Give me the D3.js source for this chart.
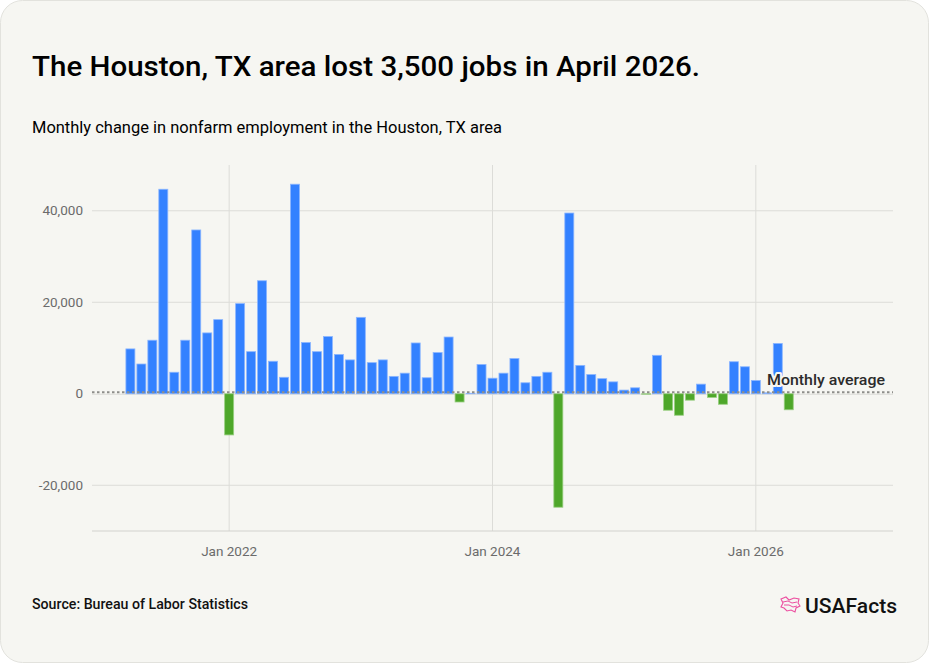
<!DOCTYPE html>
<html>
<head>
<meta charset="utf-8">
<script src="https://cdn.jsdelivr.net/npm/d3@7"></script>
<style>
  html, body { margin: 0; padding: 0; background: #ffffff; }
  svg { display: block; }
  text { font-family: Roboto, "Noto Sans", sans-serif; }
</style>
</head>
<body>
<svg id="chart" width="929" height="663"></svg>
<script>
// ---- data ----
const months = [
  "2021-04","2021-05","2021-06","2021-07","2021-08","2021-09","2021-10","2021-11","2021-12",
  "2022-01","2022-02","2022-03","2022-04","2022-05","2022-06","2022-07","2022-08","2022-09","2022-10","2022-11","2022-12",
  "2023-01","2023-02","2023-03","2023-04","2023-05","2023-06","2023-07","2023-08","2023-09","2023-10","2023-11","2023-12",
  "2024-01","2024-02","2024-03","2024-04","2024-05","2024-06","2024-07","2024-08","2024-09","2024-10","2024-11","2024-12",
  "2025-01","2025-02","2025-03","2025-04","2025-05","2025-06","2025-07","2025-08","2025-09","2025-10","2025-11","2025-12",
  "2026-01","2026-02","2026-03","2026-04"
];
const jobChange = [
  9800, 6500, 11700, 44700, 4700, 11700, 35800, 13300, 16200,
  -9000, 19700, 9200, 24700, 7100, 3600, 45800, 11200, 9200, 12500, 8600, 7400,
  16700, 6800, 7400, 3800, 4500, 11100, 3500, 9000, 12400, -1800, 100, 6400,
  3400, 4500, 7700, 2400, 3800, 4700, -24800, 39500, 6200, 4200, 3300, 2600,
  800, 1300, -100, 8400, -3600, -4700, -1400, 2100, -800, -2300, 7000, 5900,
  2900, 200, 11000, -3500
];
const monthlyAverage = 350;
const axisMonths = d3.timeMonths(new Date(2021, 0, 1), new Date(2027, 1, 1)).map(d3.timeFormat("%Y-%m"));
const xTickMonths = ["2022-01", "2024-01", "2026-01"];
const xTickLabels = ["Jan 2022", "Jan 2024", "Jan 2026"];
const yTicks = [-20000, 0, 20000, 40000];
const yDomain = [-30000, 50000];

const titleText = "The Houston, TX area lost 3,500 jobs in April 2026.";
const subtitleText = "Monthly change in nonfarm employment in the Houston, TX area";
const sourceText = "Source: Bureau of Labor Statistics";

// ---- layout ----
const W = 929, H = 663;
const bg = "#f6f6f2";
const svg = d3.select("#chart");

svg.append("rect")
  .attr("x", 0.5).attr("y", 0.5).attr("width", W - 1).attr("height", H - 1)
  .attr("rx", 22).attr("fill", bg).attr("stroke", "#e2e2dd");

const plot = { left: 92, right: 893, top: 165, bottom: 531 };

const x = d3.scaleBand().domain(axisMonths).range([plot.left, plot.right]).paddingInner(0.18).paddingOuter(0.09);
const y = d3.scaleLinear().domain(yDomain).range([plot.bottom, plot.top]);

// title
svg.append("text").attr("x", 32).attr("y", 76)
  .attr("font-size", 28).attr("font-weight", 500).attr("fill", "#000")
  .attr("textLength", 668).attr("lengthAdjust", "spacingAndGlyphs")
  .text(titleText);
svg.append("text").attr("x", 32).attr("y", 133)
  .attr("font-size", 16).attr("font-weight", 400).attr("fill", "#000")
  .attr("textLength", 470).attr("lengthAdjust", "spacingAndGlyphs")
  .text(subtitleText);

// horizontal grid
const g = svg.append("g");
g.selectAll("line.hgrid").data(yTicks.filter(t => t !== 0)).enter().append("line")
  .attr("x1", plot.left).attr("x2", plot.right)
  .attr("y1", d => y(d)).attr("y2", d => y(d))
  .attr("stroke", "#dcdcd8").attr("stroke-width", 1);

// vertical grid
g.selectAll("line.vgrid").data(xTickMonths).enter().append("line")
  .attr("x1", d => x(d) + x.bandwidth() / 2).attr("x2", d => x(d) + x.bandwidth() / 2)
  .attr("y1", plot.top).attr("y2", plot.bottom)
  .attr("stroke", "#dcdcd8").attr("stroke-width", 1);

// bottom axis line
g.append("line").attr("x1", plot.left).attr("x2", plot.right)
  .attr("y1", plot.bottom).attr("y2", plot.bottom)
  .attr("stroke", "#d2d2ce").attr("stroke-width", 1.2);

// zero line
g.append("line").attr("x1", plot.left).attr("x2", plot.right)
  .attr("y1", y(0) + 0.5).attr("y2", y(0) + 0.5)
  .attr("stroke", "#dcdcd8").attr("stroke-width", 1);

// y labels
svg.selectAll("text.ylab").data(yTicks).enter().append("text")
  .attr("x", 83).attr("y", d => y(d) + 4.5)
  .attr("text-anchor", "end").attr("font-size", 13.5).attr("fill", "#6b6b6b")
  .text(d => d3.format(",")(d).replace("−", "-"));

// x labels
svg.selectAll("text.xlab").data(xTickMonths).enter().append("text")
  .attr("x", d => x(d) + x.bandwidth() / 2).attr("y", 556)
  .attr("text-anchor", "middle").attr("font-size", 13.5).attr("fill", "#6b6b6b")
  .text((d, i) => xTickLabels[i]);

// bars
const data = months.map((m, i) => ({ m, v: jobChange[i] }));
svg.append("g").selectAll("rect").data(data).enter().append("rect")
  .attr("x", d => x(d.m))
  .attr("width", x.bandwidth())
  .attr("y", d => y(Math.max(0, d.v)))
  .attr("height", d => Math.abs(y(d.v) - y(0)))
  .attr("fill", d => d.v >= 0 ? "#3381ff" : "#4ea72a")
  .attr("stroke", d => d.v >= 0 ? "#8cb6ff" : "#98cf80")
  .attr("stroke-width", 0.8);

// monthly average dotted line
svg.append("line").attr("x1", plot.left).attr("x2", plot.right)
  .attr("y1", y(monthlyAverage)).attr("y2", y(monthlyAverage))
  .attr("stroke", "#8e8e8a").attr("stroke-width", 2).attr("stroke-dasharray", "2.5,2.5");

svg.append("text").attr("x", 767).attr("y", 384.5)
  .attr("font-size", 15).attr("font-weight", 500).attr("fill", "#2b2b2b")
  .attr("stroke", bg).attr("stroke-width", 4).attr("paint-order", "stroke")
  .attr("stroke-linejoin", "round")
  .attr("textLength", 118).attr("lengthAdjust", "spacingAndGlyphs")
  .text("Monthly average");

// source
svg.append("text").attr("x", 32).attr("y", 609)
  .attr("font-size", 14).attr("font-weight", 500).attr("fill", "#111")
  .attr("textLength", 216).attr("lengthAdjust", "spacingAndGlyphs")
  .text(sourceText);

// logo
const logo = svg.append("g").attr("transform", "translate(780,596)");
logo.append("path")
  .attr("d", "M1,3 L6,1 L9,4 L14,2 L19,3 L18,7 L20,10 L16,12 L15,16 L11,14 L7,15 L4,12 L1,11 L3,7 Z")
  .attr("fill", "none").attr("stroke", "#ec4fa0").attr("stroke-width", 1.1);
logo.append("path")
  .attr("d", "M3,6 L8,5 L12,7 L17,6 M4,9 L9,9 L13,11 L17,10")
  .attr("fill", "none").attr("stroke", "#ec4fa0").attr("stroke-width", 1);
svg.append("text").attr("x", 805).attr("y", 613)
  .attr("font-size", 21).attr("font-weight", 500).attr("fill", "#111")
  .attr("textLength", 92).attr("lengthAdjust", "spacingAndGlyphs")
  .text("USAFacts");
</script>
</body>
</html>
